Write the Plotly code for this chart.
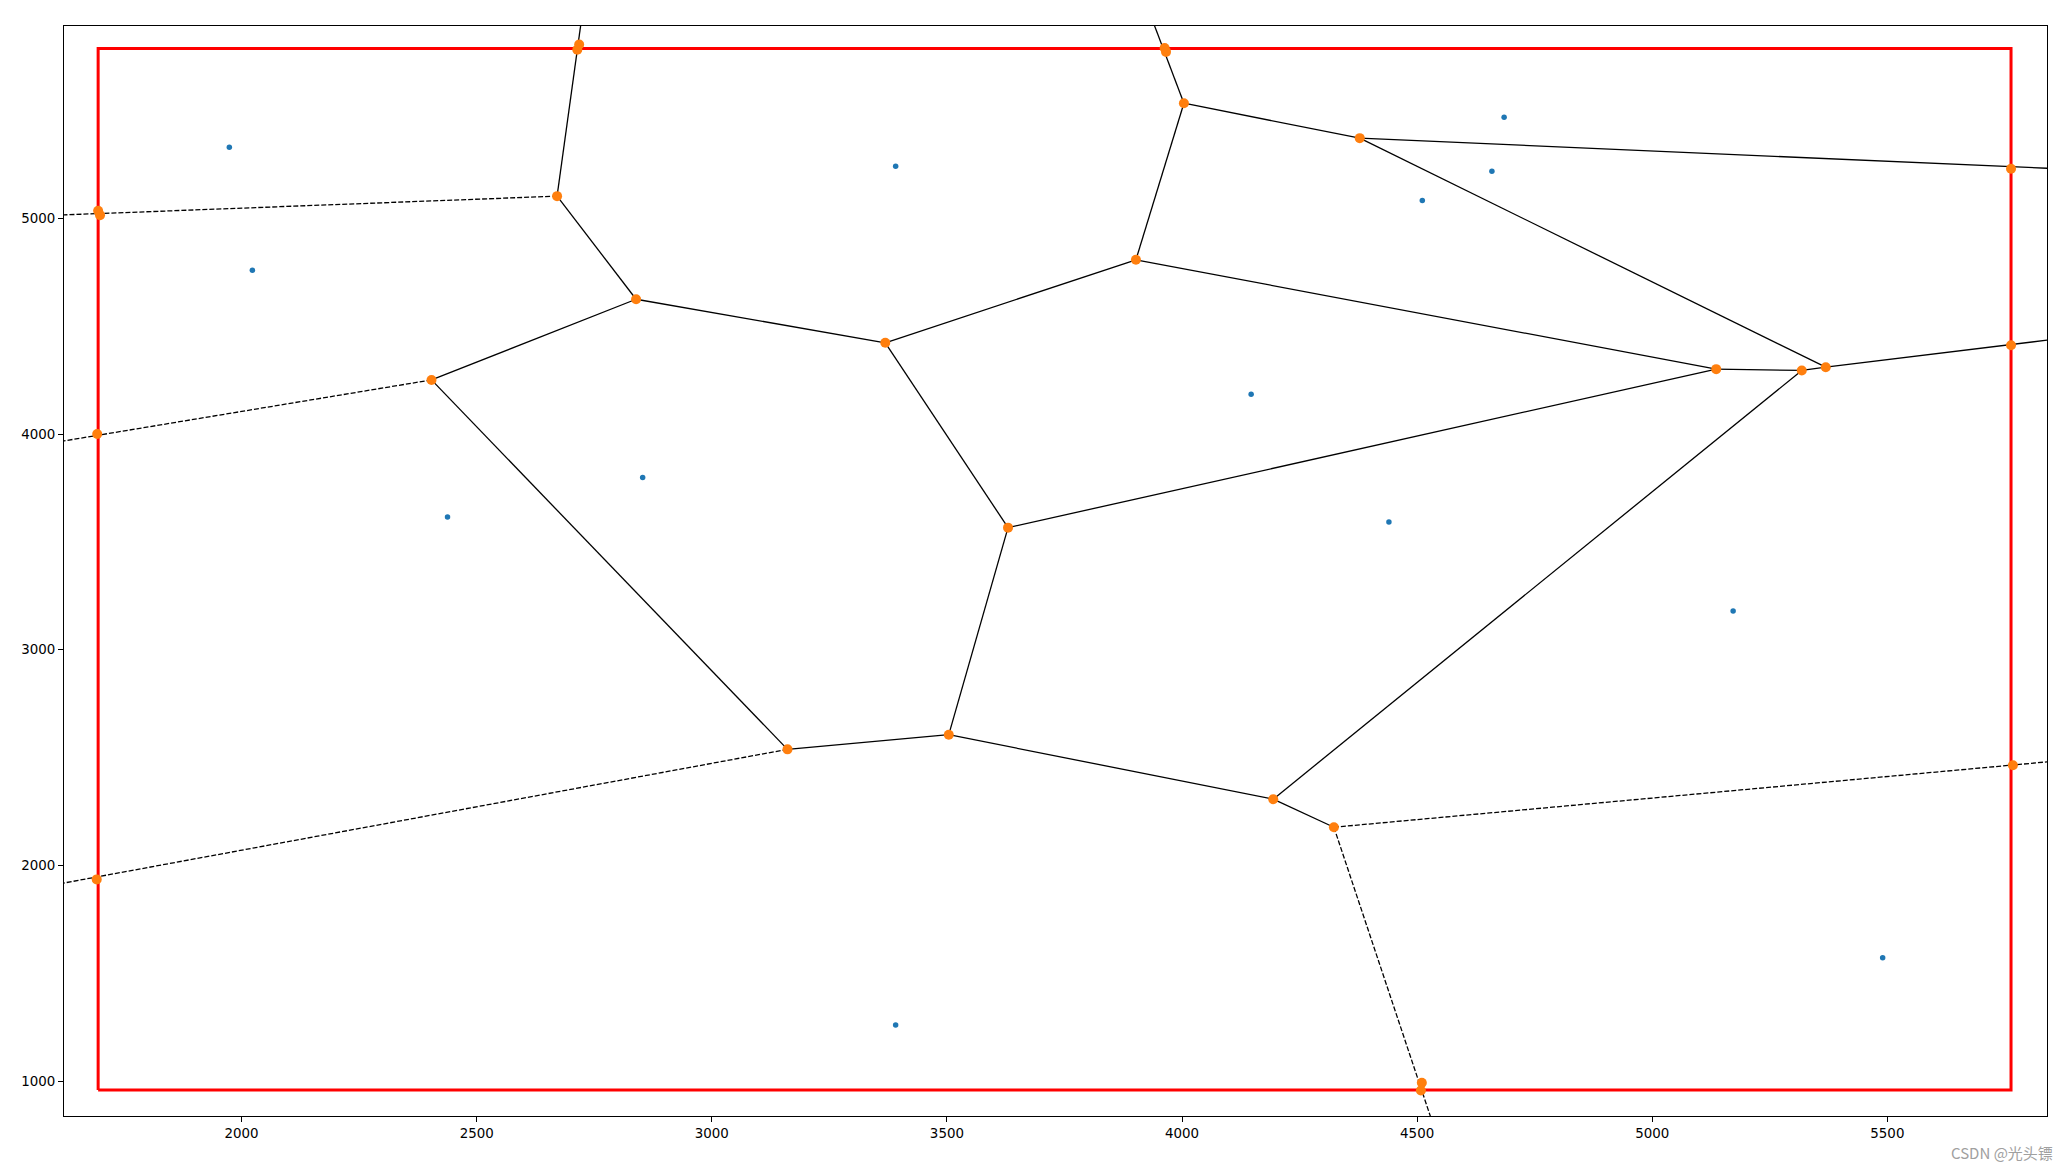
import plotly.graph_objects as go

# Seed points (blue)
seed_x = [1974, 2023, 2438, 2853, 3391, 3391, 4147, 4440, 4511, 4659, 4685, 5172, 5490]
seed_y = [5330, 4760, 3615, 3799, 5242, 1260, 4185, 3592, 5083, 5219, 5469, 3179, 1572]

# Voronoi vertices (orange)
vert_x = [2671, 2839, 2404, 3369, 3902, 4004, 4378, 5136, 5318, 5369, 3630, 3161, 3504, 4194, 4323]
vert_y = [5103, 4625, 4251, 4423, 4808, 5534, 5372, 4301, 4295, 4310, 3566, 2538, 2606, 2307, 2177]

# Finite ridges (vertex index pairs), solid
ridge_a = [0, 1, 1, 3, 3, 2, 11, 12, 12, 13, 13, 10, 4, 4, 5, 7, 8, 6]
ridge_b = [1, 2, 3, 4, 10, 11, 12, 10, 13, 14, 8, 7, 7, 5, 6, 8, 9, 9]

# Rays leaving the plot: start vertex, far point, style
ray_start = [0, 5, 6, 9, 0, 2, 11, 14, 14]
ray_far_x = [2731, 3923, 6000, 6000, 1500, 1500, 1500, 4569, 6000]
ray_far_y = [6050, 6000, 5217, 4478, 5006, 3924, 1869, 570, 2512]
ray_dashed = [False, False, False, False, True, True, True, True, True]

# Intersection points with the bounding box (orange)
clip_x = [2718, 2714, 3963, 3966, 5763, 5763, 5767, 4510, 4508, 1693, 1692, 1695, 1699]
clip_y = [5806, 5782, 5790, 5772, 5230, 4412, 2464, 992, 956, 4000, 1935, 5035, 5015]

# Bounding box (red)
box_x = [1695, 5763, 5763, 1695, 1695]
box_y = [959, 959, 5788, 5788, 959]

x_ticks = [2000, 2500, 3000, 3500, 4000, 4500, 5000, 5500]
y_ticks = [1000, 2000, 3000, 4000, 5000]
x_range = [1622.4, 5839.5]
y_range = [838, 5892]

fig = go.Figure()

# solid finite ridges
sx, sy = [], []
for a, b in zip(ridge_a, ridge_b):
    sx += [vert_x[a], vert_x[b], None]
    sy += [vert_y[a], vert_y[b], None]
for s, fx, fy, d in zip(ray_start, ray_far_x, ray_far_y, ray_dashed):
    if not d:
        sx += [vert_x[s], fx, None]
        sy += [vert_y[s], fy, None]
fig.add_trace(go.Scatter(x=sx, y=sy, mode="lines",
                         line=dict(color="black", width=1.3), hoverinfo="skip"))

dx, dy = [], []
for s, fx, fy, d in zip(ray_start, ray_far_x, ray_far_y, ray_dashed):
    if d:
        dx += [vert_x[s], fx, None]
        dy += [vert_y[s], fy, None]
fig.add_trace(go.Scatter(x=dx, y=dy, mode="lines",
                         line=dict(color="black", width=1.3, dash="5px,2px"), hoverinfo="skip"))

fig.add_trace(go.Scatter(x=box_x, y=box_y, mode="lines",
                         line=dict(color="#ff0000", width=3)))

fig.add_trace(go.Scatter(x=seed_x, y=seed_y, mode="markers",
                         marker=dict(color="#1f77b4", size=5.5, line=dict(width=0))))

fig.add_trace(go.Scatter(x=vert_x + clip_x, y=vert_y + clip_y, mode="markers",
                         marker=dict(color="#ff7f0e", size=10, line=dict(width=0))))

axis_common = dict(showgrid=False, zeroline=False, showline=True, mirror=True,
                   linecolor="black", linewidth=1, ticks="outside", ticklen=5,
                   tickwidth=1, tickcolor="black",
                   tickfont=dict(family="DejaVu Sans", size=13.4, color="black"))

fig.update_xaxes(range=x_range, tickvals=x_ticks, ticktext=[str(v) for v in x_ticks], **axis_common)
fig.update_yaxes(range=y_range, tickvals=y_ticks, ticktext=[str(v) for v in y_ticks], **axis_common)

fig.add_annotation(text="CSDN @光头镖", xref="paper", yref="paper", x=1, y=0,
                   xanchor="right", yanchor="middle", xshift=8, yshift=-36,
                   showarrow=False,
                   font=dict(family="Noto Sans CJK SC", size=15, color="#a0a0a0"))

# page body adds an 8px offset, so the figure is 8px smaller and margins reduced
fig.update_layout(width=2061, height=1161, showlegend=False,
                  plot_bgcolor="white", paper_bgcolor="white",
                  margin=dict(l=56, r=21.5, t=18, b=52.7))

fig.write_html("out.html")
